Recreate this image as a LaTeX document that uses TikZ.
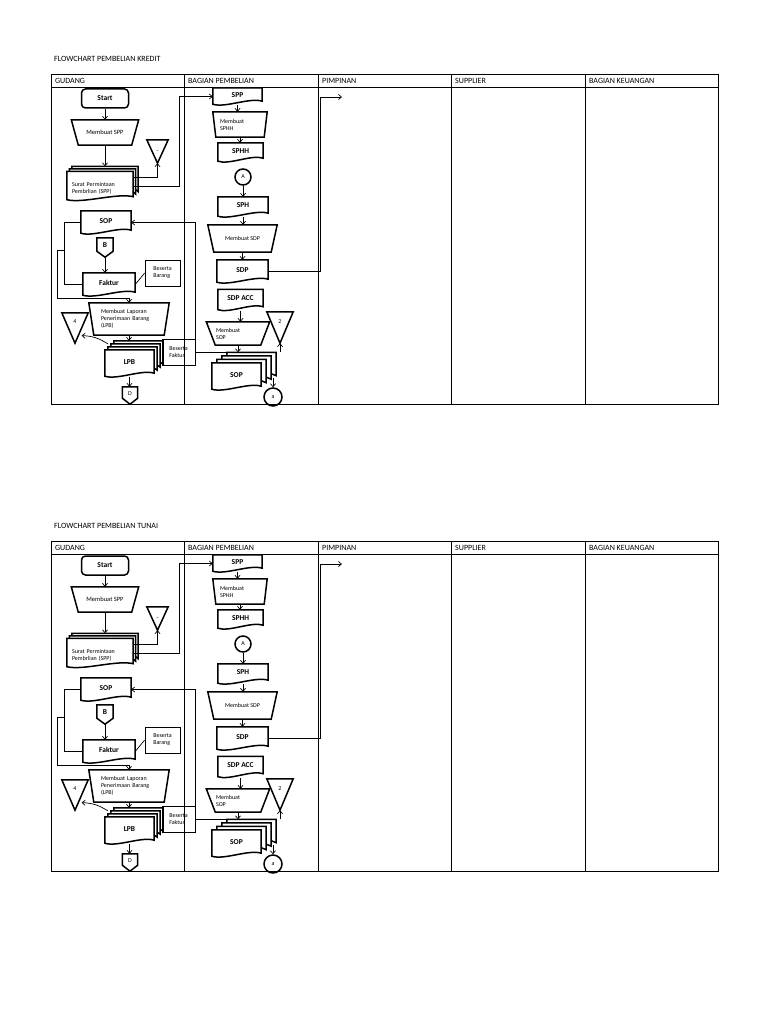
\documentclass[tikz,border=0pt]{standalone}
\usepackage{fontspec}
\setmainfont{Carlito}
\usetikzlibrary{calc,arrows.meta}

\tikzset{
  garis/.style={line width=0.7pt},
  bentuk/.style={line width=1.5pt},
  kecil/.style={font=\fontsize{6}{7}\selectfont, align=left},
  tebal/.style={font=\fontsize{7.5}{9}\selectfont\bfseries},
  panah/.style={garis, -{Straight Barb[length=3pt, width=5pt]}},
  kolom/.style={anchor=west, inner sep=0pt, font=\fontsize{8}{9}\selectfont},
  teksjudul/.style={anchor=west, inner sep=0pt, font=\fontsize{8}{9}\selectfont},
  mulai/.style={draw, bentuk, rounded corners=4pt, tebal, inner sep=0pt,
    minimum width=47, minimum height=19},
  % dokumen dengan sisi bawah bergelombang
  dok/.style={inner sep=0pt, text depth=3pt, append after command={\pgfextra{
    \draw[bentuk] (\tikzlastnode.north west) -- (\tikzlastnode.north east)
      -- ([yshift=4pt]\tikzlastnode.south east)
      .. controls ($(\tikzlastnode.south)!0.5!(\tikzlastnode.south east)+(0,8pt)$)
      and ($(\tikzlastnode.south)!0.5!(\tikzlastnode.south west)+(0,-3pt)$)
      .. ([yshift=1pt]\tikzlastnode.south west) -- cycle;}}},
  % dokumen rangkap: geser x, geser y, jumlah salinan
  tumpuk/.style n args={3}{dok, append after command={\pgfextra{
    \foreach \k in {1,...,#3}{
      \draw[bentuk] ([xshift=\k*#1, yshift=(\k-1)*#2]\tikzlastnode.north west)
        -- ([xshift=\k*#1, yshift=\k*#2]\tikzlastnode.north west)
        -- ([xshift=\k*#1, yshift=\k*#2]\tikzlastnode.north east)
        -- ([xshift=\k*#1, yshift=\k*#2+4]\tikzlastnode.south east)
        -- ([xshift=(\k-1)*#1, yshift=\k*#2+6]\tikzlastnode.south east);}
    \coordinate (\tikzlastnode-atas) at ([xshift=#3*#1, yshift=#3*#2]\tikzlastnode.north);
    \coordinate (\tikzlastnode-kiri) at ([xshift=#3*#1, yshift=#3*#2]\tikzlastnode.north west);}}},
  operasi/.style={inner sep=1pt, append after command={\pgfextra{
    \draw[bentuk] (\tikzlastnode.north west) -- (\tikzlastnode.north east)
      -- ([xshift=-#1]\tikzlastnode.south east)
      -- ([xshift=#1]\tikzlastnode.south west) -- cycle;}}},
  segitiga/.style={inner sep=0pt, kecil, append after command={\pgfextra{
    \draw[bentuk] (\tikzlastnode.north west) -- (\tikzlastnode.north east)
      -- (\tikzlastnode.south) -- cycle;}}},
  sambung/.style={inner sep=0pt, append after command={\pgfextra{
    \draw[bentuk] (\tikzlastnode.north west) -- (\tikzlastnode.north east)
      -- ([yshift=6pt]\tikzlastnode.south east) -- (\tikzlastnode.south)
      -- ([yshift=6pt]\tikzlastnode.south west) -- cycle;}}},
  bulat/.style={draw, bentuk, circle, kecil, inner sep=0pt, minimum size=16},
  catatan/.style={draw, garis, kecil, inner sep=2pt, minimum width=35, minimum height=26}
}

\begin{document}
\begin{tikzpicture}[x=1pt, y=-1pt]
\useasboundingbox (0,0) rectangle (768,1024);
\foreach \geser/\jenis in {0/KREDIT, 467/TUNAI}{
\begin{scope}[yshift=-\geser]
  % tabel
  \node[teksjudul] (judul) at (54,59) {FLOWCHART PEMBELIAN \jenis};
  \draw[garis] (51,74) rectangle (718,404);
  \draw[garis] (51,87) -- (718,87);
  \foreach \x in {184,318,451,585}
    \draw[garis] (\x,74) -- (\x,404);
  \foreach \x/\kolom in {51/GUDANG, 184/BAGIAN PEMBELIAN, 318/PIMPINAN, 451/SUPPLIER, 585/BAGIAN KEUANGAN}
    \node[kolom] (k\x) at (\x+4,80.5) {\kolom};

  % gudang
  \node[mulai] (start) at (105,98.5) {Start};
  \node[operasi=7, kecil, font=\fontsize{6.5}{7}\selectfont, minimum width=67, minimum height=25] (mspp) at (105,132.5) {Membuat SPP};
  \node[tumpuk={2.5}{2.5}{2}, kecil, text width=56, minimum width=66, minimum height=29] (sppg) at (100,186) {Surat Permintaan\\Pembrlian (SPP)};
  \node[segitiga, minimum width=21, minimum height=23] (arsip1) at (157.5,151.5) {--};
  \node[dok, tebal, minimum width=50, minimum height=23] (sopg) at (106,222.5) {SOP};
  \node[sambung, tebal, text depth=4pt, minimum width=16, minimum height=19] (konB) at (105,247.5) {B};
  \node[dok, tebal, minimum width=52, minimum height=23] (faktur) at (109,284.5) {Faktur};
  \node[catatan] (bsbarang) at (162.5,273) {Beserta\\Barang};
  \coordinate (cabang) at (65,250);
  \node[operasi=5, kecil, text width=56, minimum width=80, minimum height=32] (mlpb) at (129,319) {Membuat Laporan\\Penerimaan Barang\\(LPB)};
  \node[segitiga, text depth=12pt, minimum width=26, minimum height=30] (arsip4) at (75,328) {4};
  \node[tumpuk={3}{3}{3}, tebal, minimum width=49, minimum height=27] (lpb) at (129.5,363.5) {LPB};
  \node[catatan, minimum width=33] (bsfaktur) at (178.5,352) {Beserta\\Faktur};
  \node[sambung, kecil, text depth=3pt, minimum width=15, minimum height=17] (konD) at (130,395.5) {D};

  % bagian pembelian
  \node[dok, tebal, minimum width=49, minimum height=17] (sppb) at (237.5,96.5) {SPP};
  \node[operasi=3, kecil, text width=40, minimum width=54, minimum height=25] (msphh) at (240,124.5) {Membuat\\SPHH};
  \node[dok, tebal, minimum width=45, minimum height=19] (sphh) at (240.5,152.5) {SPHH};
  \node[bulat] (konA) at (243,177) {A};
  \node[dok, tebal, minimum width=50, minimum height=20] (sph) at (243,207) {SPH};
  \node[operasi=6, kecil, minimum width=69, minimum height=27] (msdp) at (242.5,238.5) {Membuat SDP};
  \node[dok, tebal, minimum width=51, minimum height=23] (sdp) at (242.5,271.5) {SDP};
  \node[dok, tebal, minimum width=45, minimum height=21] (sdpacc) at (240.5,300) {SDP ACC};
  \node[operasi=9, kecil, text width=44, minimum width=63, minimum height=23] (msop) at (238,333.5) {Membuat\\SOP};
  \node[segitiga, text depth=12pt, minimum width=26, minimum height=31] (arsip2) at (280,327.5) {2};
  \node[tumpuk={5}{3.5}{3}, tebal, minimum width=49, minimum height=27] (sopb) at (236.5,376.5) {SOP};
  \node[bulat, minimum size=18] (kona) at (273,397) {a};
  \coordinate (pimpinan) at (342,97);

  % alur gudang
  \draw[panah] (start) -- (mspp);
  \draw[panah] (mspp) -- (mspp |- sppg-atas);
  \draw[panah] ([yshift=9pt]sppg.east) -| (arsip1.south);
  \draw[panah] (sppg.east) -- ++(46,0) |- (sppb.west);
  \draw[garis] (sopg.west) -- ++(-16,0) |- (faktur.west);
  \draw[panah] (konB) -- (konB |- faktur.north);
  \draw[garis] (bsbarang.west) -- (faktur.east);
  \draw[panah] (cabang) -- ++(-8,0) -- ++(0,48) -| (mlpb.north);
  \draw[panah] (mlpb) -- (mlpb |- lpb-atas);
  \draw[panah] ([xshift=3pt, yshift=6pt]lpb.north west) to[bend right=15] ($(arsip4.east)!0.5!(arsip4.south)$);
  \draw[panah] (lpb) -- (lpb |- konD.north);
  \draw[panah] (sopb-kiri) -- (bsfaktur.east |- sopb-kiri) |- (sopg.east);

  % alur bagian pembelian
  \draw[panah] (sppb) -- (sppb |- msphh.north);
  \draw[panah] (msphh) -- (msphh |- sphh.north);
  \draw[panah] (konA) -- (konA |- sph.north);
  \draw[panah] (sph) -- (sph |- msdp.north);
  \draw[panah] (msdp) -- (msdp |- sdp.north);
  \draw[panah] (sdp.east) -- ++(52,0) |- (pimpinan);
  \draw[panah] (sdpacc) -- (sdpacc |- msop.north);
  \draw[panah] (msop) -- (msop |- sopb-atas);
  \draw[panah] (arsip2.south |- sopb-atas) -- (arsip2.south);
  \draw[panah] ([yshift=9pt]kona.north) -- (kona);
\end{scope}
}
\end{tikzpicture}
\end{document}
